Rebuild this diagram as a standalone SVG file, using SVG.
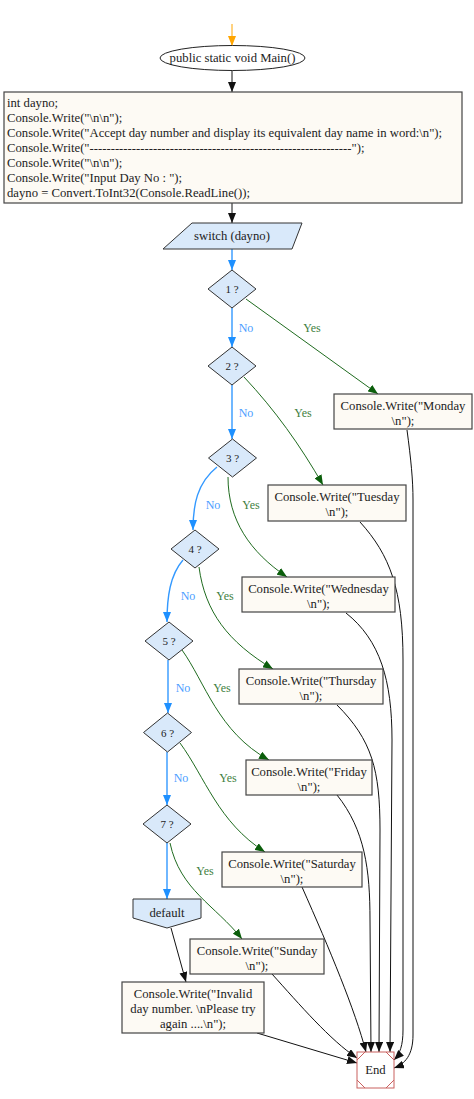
<svg xmlns="http://www.w3.org/2000/svg" width="474" height="1099" viewBox="0 0 474 1099">
<style>
text{font-family:"Liberation Serif","Times New Roman",serif;font-size:12.7px;fill:#222}
.c{text-anchor:middle}
.box{fill:#fdfaf4;stroke:#444;stroke-width:1.2}
.dec{fill:#d9e9fa;stroke:#333;stroke-width:1}
.e{fill:none;stroke-width:1}
.k{stroke:#111}
.g{stroke:#1f6b1f}
.b{stroke:#3399ff;stroke-width:1.4}
.o{stroke:#ffa500}
.yes{fill:#3f7f3f;font-size:12px}
.no{fill:#4a9eff;font-size:12px}
.d{font-size:11px}
</style>
<defs>
<marker id="ak" markerUnits="userSpaceOnUse" markerWidth="10" markerHeight="8" refX="10" refY="4" orient="auto"><path d="M0,0 L10,4 L0,8 z" fill="#111"/></marker>
<marker id="ag" markerUnits="userSpaceOnUse" markerWidth="10" markerHeight="8" refX="10" refY="4" orient="auto"><path d="M0,0 L10,4 L0,8 z" fill="#0b5e0b"/></marker>
<marker id="ab" markerUnits="userSpaceOnUse" markerWidth="10" markerHeight="8" refX="10" refY="4" orient="auto"><path d="M0,0 L10,4 L0,8 z" fill="#1e90ff"/></marker>
<marker id="ao" markerUnits="userSpaceOnUse" markerWidth="10" markerHeight="8" refX="10" refY="4" orient="auto"><path d="M0,0 L10,4 L0,8 z" fill="#ffa500"/></marker>
</defs>
<g id="connectors">
<path class="e o" d="M232,24 L232,46" marker-end="url(#ao)"/>
<path class="e k" d="M232,70 L232,92" marker-end="url(#ak)"/>
<path class="e k" d="M232,203 L232,223" marker-end="url(#ak)"/>
<path class="e b" d="M232,249 L232,270" marker-end="url(#ab)"/>
<path class="e b" d="M232,308 L232,347" marker-end="url(#ab)"/>
<path class="e b" d="M232,385 L232,439" marker-end="url(#ab)"/>
<path class="e g" d="M246,299 L378,394" marker-end="url(#ag)"/>
<path class="e g" d="M244,377 C275,410 300,445 323,485" marker-end="url(#ag)"/>
<path class="e g" d="M228,477 C228,520 250,552 287,577" marker-end="url(#ag)"/>
<path class="e b" d="M217,467 C197,483 193,505 193,530" marker-end="url(#ab)"/>
<path class="e g" d="M199,567 C205,612 228,642 273,669" marker-end="url(#ag)"/>
<path class="e b" d="M183,560 C170,575 167,597 167,622" marker-end="url(#ab)"/>
<path class="e g" d="M182,650 C205,682 218,732 269,760" marker-end="url(#ag)"/>
<path class="e b" d="M168,660 L168,713" marker-end="url(#ab)"/>
<path class="e g" d="M180,743 C205,777 218,822 265,852" marker-end="url(#ag)"/>
<path class="e b" d="M167,752 L167,805" marker-end="url(#ab)"/>
<path class="e g" d="M170,843 C180,890 215,905 242,939" marker-end="url(#ag)"/>
<path class="e b" d="M167,843 L167,899" marker-end="url(#ab)"/>
<path class="e k" d="M171,928 L186,982" marker-end="url(#ak)"/>
<path class="e k" d="M257,1033 L357,1063" marker-end="url(#ak)"/>
<path class="e k" d="M272,974 C300,1005 330,1040 357,1058" marker-end="url(#ak)"/>
<path class="e k" d="M302,887 C330,950 355,1010 366,1052" marker-end="url(#ak)"/>
<path class="e k" d="M337,795 C365,830 370,870 370,920 L371,1052" marker-end="url(#ak)"/>
<path class="e k" d="M337,705 C372,740 380,770 380,830 L379,1052" marker-end="url(#ak)"/>
<path class="e k" d="M346,613 C380,640 392,680 392,740 L390,1052" marker-end="url(#ak)"/>
<path class="e k" d="M360,522 C390,555 403,590 403,660 L403,1030 C403,1045 400,1054 394,1060" marker-end="url(#ak)"/>
<path class="e k" d="M407,430 C411,460 413,480 413,500 L413,1035 C413,1055 405,1064 394,1068" marker-end="url(#ak)"/>
<text class="yes c" x="312" y="332">Yes</text>
<text class="no c" x="246" y="332">No</text>
<text class="yes c" x="303" y="417">Yes</text>
<text class="no c" x="246" y="417">No</text>
<text class="yes c" x="251" y="509">Yes</text>
<text class="no c" x="213" y="509">No</text>
<text class="yes c" x="225" y="600">Yes</text>
<text class="no c" x="188" y="600">No</text>
<text class="yes c" x="222" y="692">Yes</text>
<text class="no c" x="183" y="692">No</text>
<text class="yes c" x="228" y="782">Yes</text>
<text class="no c" x="181" y="782">No</text>
<text class="yes c" x="205" y="875">Yes</text>
</g>
<g id="start">
<ellipse cx="232.5" cy="58" rx="72.5" ry="12.5" fill="#fff" stroke="#222" stroke-width="1"/>
<text class="c" x="232.5" y="62">public static void Main()</text>
</g>
<g id="init">
<rect class="box" x="4" y="92" width="458" height="111"/>
<text x="7" y="107">int dayno;</text>
<text x="7" y="122">Console.Write("\n\n");</text>
<text x="7" y="137">Console.Write("Accept day number and display its equivalent day name in word:\n");</text>
<text x="7" y="152">Console.Write("--------------------------------------------------------------");</text>
<text x="7" y="167">Console.Write("\n\n");</text>
<text x="7" y="182">Console.Write("Input Day No : ");</text>
<text x="7" y="197">dayno = Convert.ToInt32(Console.ReadLine());</text>
</g>
<g id="switch">
<path class="dec" d="M192,223 L302,223 L292,249 L163,249 z"/>
<text class="c" x="232" y="240">switch (dayno)</text>
</g>
<g id="d1"><path class="dec" d="M232,270 L256,289 L232,308 L208,289 z"/><text class="c d" x="232" y="293">1 ?</text></g>
<g id="d2"><path class="dec" d="M232,347 L256,366 L232,385 L208,366 z"/><text class="c d" x="232" y="370">2 ?</text></g>
<g id="d3"><path class="dec" d="M232.5,439 L256.5,458 L232.5,477 L208.5,458 z"/><text class="c d" x="232.5" y="462">3 ?</text></g>
<g id="d4"><path class="dec" d="M195,530 L219,549 L195,568 L171,549 z"/><text class="c d" x="195" y="553">4 ?</text></g>
<g id="d5"><path class="dec" d="M169,622 L193,641 L169,660 L145,641 z"/><text class="c d" x="169" y="645">5 ?</text></g>
<g id="d6"><path class="dec" d="M167.5,713 L191.5,732.5 L167.5,752 L143.5,732.5 z"/><text class="c d" x="167.5" y="736.5">6 ?</text></g>
<g id="d7"><path class="dec" d="M167,805 L191,824 L167,843 L143,824 z"/><text class="c d" x="167" y="828">7 ?</text></g>
<g id="default">
<path class="dec" d="M133,899 L201,899 L201,918 L167,928 L133,918 z"/>
<text class="c" x="167" y="917">default</text>
</g>
<g id="monday"><rect class="box" x="334" y="394" width="138" height="35"/><text class="c" x="403" y="410">Console.Write("Monday</text><text class="c" x="403" y="425">\n");</text></g>
<g id="tuesday"><rect class="box" x="268" y="485" width="138" height="36"/><text class="c" x="337" y="501">Console.Write("Tuesday</text><text class="c" x="337" y="516">\n");</text></g>
<g id="wednesday"><rect class="box" x="242" y="577" width="153" height="35"/><text class="c" x="318.5" y="593">Console.Write("Wednesday</text><text class="c" x="318.5" y="608">\n");</text></g>
<g id="thursday"><rect class="box" x="239" y="669" width="144" height="35"/><text class="c" x="311" y="685">Console.Write("Thursday</text><text class="c" x="311" y="700">\n");</text></g>
<g id="friday"><rect class="box" x="246" y="760" width="126" height="35"/><text class="c" x="309" y="776">Console.Write("Friday</text><text class="c" x="309" y="791">\n");</text></g>
<g id="saturday"><rect class="box" x="222" y="852" width="140" height="35"/><text class="c" x="292" y="868">Console.Write("Saturday</text><text class="c" x="292" y="883">\n");</text></g>
<g id="sunday"><rect class="box" x="190" y="939" width="134" height="35"/><text class="c" x="257" y="955">Console.Write("Sunday</text><text class="c" x="257" y="970">\n");</text></g>
<g id="invalid"><rect class="box" x="122" y="982" width="142" height="51"/><text class="c" x="193" y="998">Console.Write("Invalid</text><text class="c" x="193" y="1013">day number. \nPlease try</text><text class="c" x="193" y="1028">again ....\n");</text></g>
<g id="end">
<rect x="357" y="1052" width="37" height="36" fill="#fff" stroke="#c9605f" stroke-width="1"/>
<path d="M357,1060 L365,1052 M386,1052 L394,1060 M394,1080 L386,1088 M365,1088 L357,1080" fill="none" stroke="#c9605f" stroke-width="1"/>
<text class="c" x="375.5" y="1074">End</text>
</g>
</svg>
